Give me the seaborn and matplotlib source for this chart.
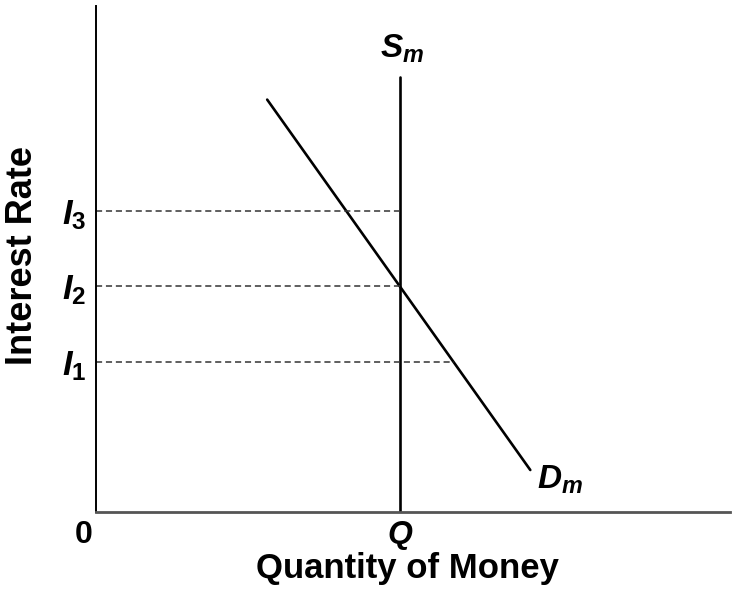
import numpy as np
import pandas as pd
import matplotlib
matplotlib.use("Agg")
import matplotlib.pyplot as plt
import seaborn as sns

sns.set_theme(style="white")
plt.rcParams['font.family'] = ['Liberation Sans', 'DejaVu Sans']
plt.rcParams['mathtext.fontset'] = 'custom'
plt.rcParams['mathtext.it'] = 'Liberation Sans:italic:bold'
plt.rcParams['mathtext.rm'] = 'Liberation Sans:bold'
plt.rcParams['text.color'] = 'black'
plt.rcParams['axes.labelcolor'] = 'black'
plt.rcParams['xtick.color'] = 'black'
plt.rcParams['ytick.color'] = 'black'

# Datos del diagrama (unidades arbitrarias, eje 0-10)
demand_q = [2.7, 6.85]
demand_r = [8.15, 0.83]
supply_q = [4.8, 4.8]
supply_r = [0.0, 8.6]
rate_levels = [2.96, 4.47, 5.95]
rate_labels = [r'$\mathit{I_1}$', r'$\mathit{I_2}$', r'$\mathit{I_3}$']
q_star = 4.8

df_d = pd.DataFrame({'q': demand_q, 'r': demand_r})
df_s = pd.DataFrame({'q': supply_q, 'r': supply_r})

fig = plt.figure(figsize=(7.37, 5.96), dpi=100)
ax = fig.add_axes([96 / 737, 1 - 512 / 596, 634 / 737, 506 / 596])

# Curvas de demanda y oferta (sin agregacion)
sns.lineplot(data=df_d, x='q', y='r', color='black', lw=1.9, ax=ax,
             sort=False, estimator=None)
sns.lineplot(data=df_s, x='q', y='r', color='black', lw=1.9, ax=ax,
             sort=False, estimator=None)

# Lineas punteadas: hasta la oferta, o hasta la demanda si queda mas lejos
for r in rate_levels:
    x_dem = np.interp(r, demand_r[::-1], demand_q[::-1])
    ax.hlines(r, 0, max(q_star, x_dem), colors='#333333',
              linestyles=(0, (4, 2.5)), lw=1.1)

ax.set_xlim(0, 10)
ax.set_ylim(0, 10)
ax.set_xticks([q_star])
ax.set_xticklabels([r'$\mathit{Q}$'], fontsize=23)
ax.set_yticks(rate_levels)
ax.set_yticklabels(rate_labels, fontsize=25)
ax.tick_params(length=0)
ax.tick_params(axis='x', pad=5)
ax.tick_params(axis='y', pad=7)

for s in ['top', 'right']:
    ax.spines[s].set_visible(False)
ax.spines['left'].set_color('black')
ax.spines['left'].set_linewidth(1.4)
ax.spines['bottom'].set_color('#555555')
ax.spines['bottom'].set_linewidth(2)

ax.text(-0.19, -0.45, '0', fontsize=23, fontweight='bold', ha='center', va='center')
ax.text(4.48, 8.99, r'$\mathit{S_m}$', fontsize=24, ha='left', va='baseline')
ax.text(6.96, 0.47, r'$\mathit{D_m}$', fontsize=24, ha='left', va='baseline')

ax.set_xlabel('Quantity of Money', fontsize=25, fontweight='bold')
ax.set_ylabel('Interest Rate', fontsize=26, fontweight='bold')
ax.xaxis.set_label_coords(0.492, -0.080)
ax.yaxis.set_label_coords(-0.088, 0.506)

fig.savefig('out.png', dpi=100)
